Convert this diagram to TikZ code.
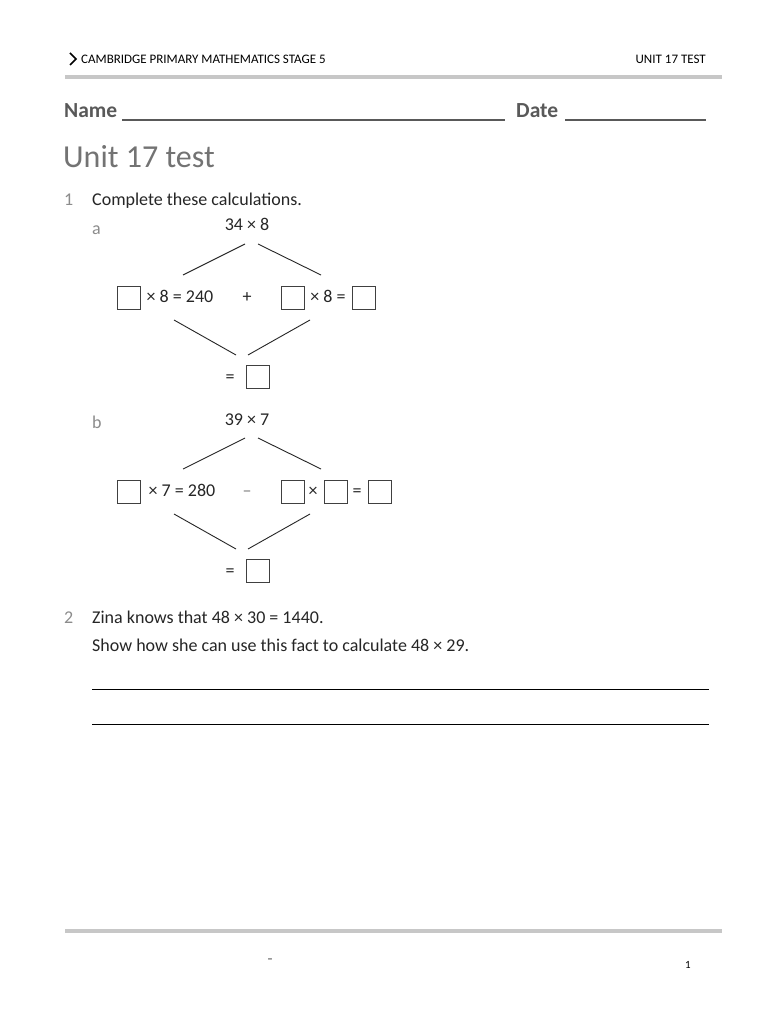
\documentclass[tikz,border=0pt]{standalone}
\usepackage{fontspec}
\setmainfont{Carlito}
\begin{document}
\begin{tikzpicture}[x=1pt,y=-1pt,
  bx/.style={draw=black!75,line width=1pt,minimum width=23pt,minimum height=23pt,inner sep=0pt},
  ln/.style={line width=0.9pt,black!85},
  txt/.style={font=\fontsize{18}{20}\selectfont,inner sep=0pt,text=black!85,text height=12pt,text depth=2pt},
  lbl/.style={font=\fontsize{18}{20}\selectfont,inner sep=0pt,text=black!45,text height=12pt,text depth=2pt},
  rule/.style={line width=3.5pt,black!22}]
\useasboundingbox (0,0) rectangle (768,1024);
\fill[white] (0,0) rectangle (768,1024);
% header
\coordinate (c1) at (70,53); \coordinate (c2) at (76,59); \coordinate (c3) at (70,65);
\draw[line width=1.5pt] (c1) -- (c2) -- (c3);
\node[anchor=west,inner sep=0pt,font=\fontsize{13}{15}\selectfont] (hd) at (81,59.5) {CAMBRIDGE PRIMARY MATHEMATICS STAGE 5};
\node[anchor=east,inner sep=0pt,font=\fontsize{13}{15}\selectfont] (hu) at (706,59.5) {UNIT 17 TEST};
\draw[rule] (65,77) -- (722,77);
% name/date
\node[anchor=west,inner sep=0pt,font=\bfseries\fontsize{21.5}{24}\selectfont,text=black!65] (nm) at (64,111) {Name};
\draw[line width=1.2pt,black!65] (122,120) -- (505,120);
\node[anchor=west,inner sep=0pt,font=\bfseries\fontsize{21.5}{24}\selectfont,text=black!65] (dt) at (516,111) {Date};
\draw[line width=1.2pt,black!65] (565,120) -- (706,120);
\node[anchor=west,inner sep=0pt,font=\fontsize{32}{36}\selectfont,text=black!55] (ttl) at (63,157) {Unit 17 test};
% Q1
\node[lbl,anchor=west] (q1) at (64,201) {1};
\node[txt,anchor=west] (q1t) at (92,201) {Complete these calculations.};
\node[lbl,anchor=west] (qa) at (92,229) {a};
\node[txt] (ta) at (247,226) {34 × 8};
\node[bx] (a1) at (129,297.5) {};
\node[txt] (a1t) at (180,297.5) {× 8 = 240};
\node[txt] (ap) at (247,297.5) {+};
\node[bx] (a2) at (293,297.5) {};
\node[txt] (a2t) at (328,297.5) {× 8 =};
\node[bx] (a3) at (364,297.5) {};
\node[txt] (aeq) at (230,377) {=};
\node[bx] (a4) at (258,377) {};
\coordinate (a5) at (183,275); \coordinate (a6) at (245,244);
\coordinate (a7) at (258,244); \coordinate (a8) at (321,275);
\coordinate (a9) at (174,320); \coordinate (a10) at (236,355);
\coordinate (a11) at (248,355); \coordinate (a12) at (310,320);
\draw[ln] (a5) -- (a6); \draw[ln] (a7) -- (a8);
\draw[ln] (a9) -- (a10); \draw[ln] (a11) -- (a12);
% b
\node[lbl,anchor=west] (qb) at (92,423) {b};
\node[txt] (tb) at (247,420) {39 × 7};
\node[bx] (b1) at (129,491.5) {};
\node[txt] (b1t) at (182,491.5) {× 7 = 280};
\node[txt,text=black!50] (bm) at (247,491.5) {–};
\node[bx] (b2) at (292.5,491.5) {};
\node[txt] (bx1) at (313,491.5) {×};
\node[bx] (b3) at (336,491.5) {};
\node[txt] (beq1) at (357,491.5) {=};
\node[bx] (b4) at (380,491.5) {};
\node[txt] (beq) at (230,571) {=};
\node[bx] (b5) at (258,571) {};
\coordinate (b6) at (183,469); \coordinate (b7) at (245,438);
\coordinate (b8) at (258,438); \coordinate (b9) at (321,469);
\coordinate (b10) at (174,514); \coordinate (b11) at (236,549);
\coordinate (b12) at (248,549); \coordinate (b13) at (310,514);
\draw[ln] (b6) -- (b7); \draw[ln] (b8) -- (b9);
\draw[ln] (b10) -- (b11); \draw[ln] (b12) -- (b13);
% Q2
\node[lbl,anchor=west] (q2) at (64,618) {2};
\node[txt,anchor=west] (q2t) at (92,618) {Zina knows that 48 × 30 = 1440.};
\node[txt,anchor=west] (q2u) at (92,646) {Show how she can use this fact to calculate 48 × 29.};
\coordinate (l1) at (92,689); \coordinate (l2) at (709,689);
\coordinate (l3) at (92,724); \coordinate (l4) at (709,724);
\draw[line width=0.8pt] (l1) -- (l2);
\draw[line width=0.8pt] (l3) -- (l4);
% footer
\draw[rule] (65,931) -- (722,931);
\node[inner sep=0pt,font=\fontsize{11}{13}\selectfont] (fd) at (270,961) {–};
\node[inner sep=0pt,font=\fontsize{11}{13}\selectfont] (fp) at (688,965) {1};
\end{tikzpicture}
\end{document}
